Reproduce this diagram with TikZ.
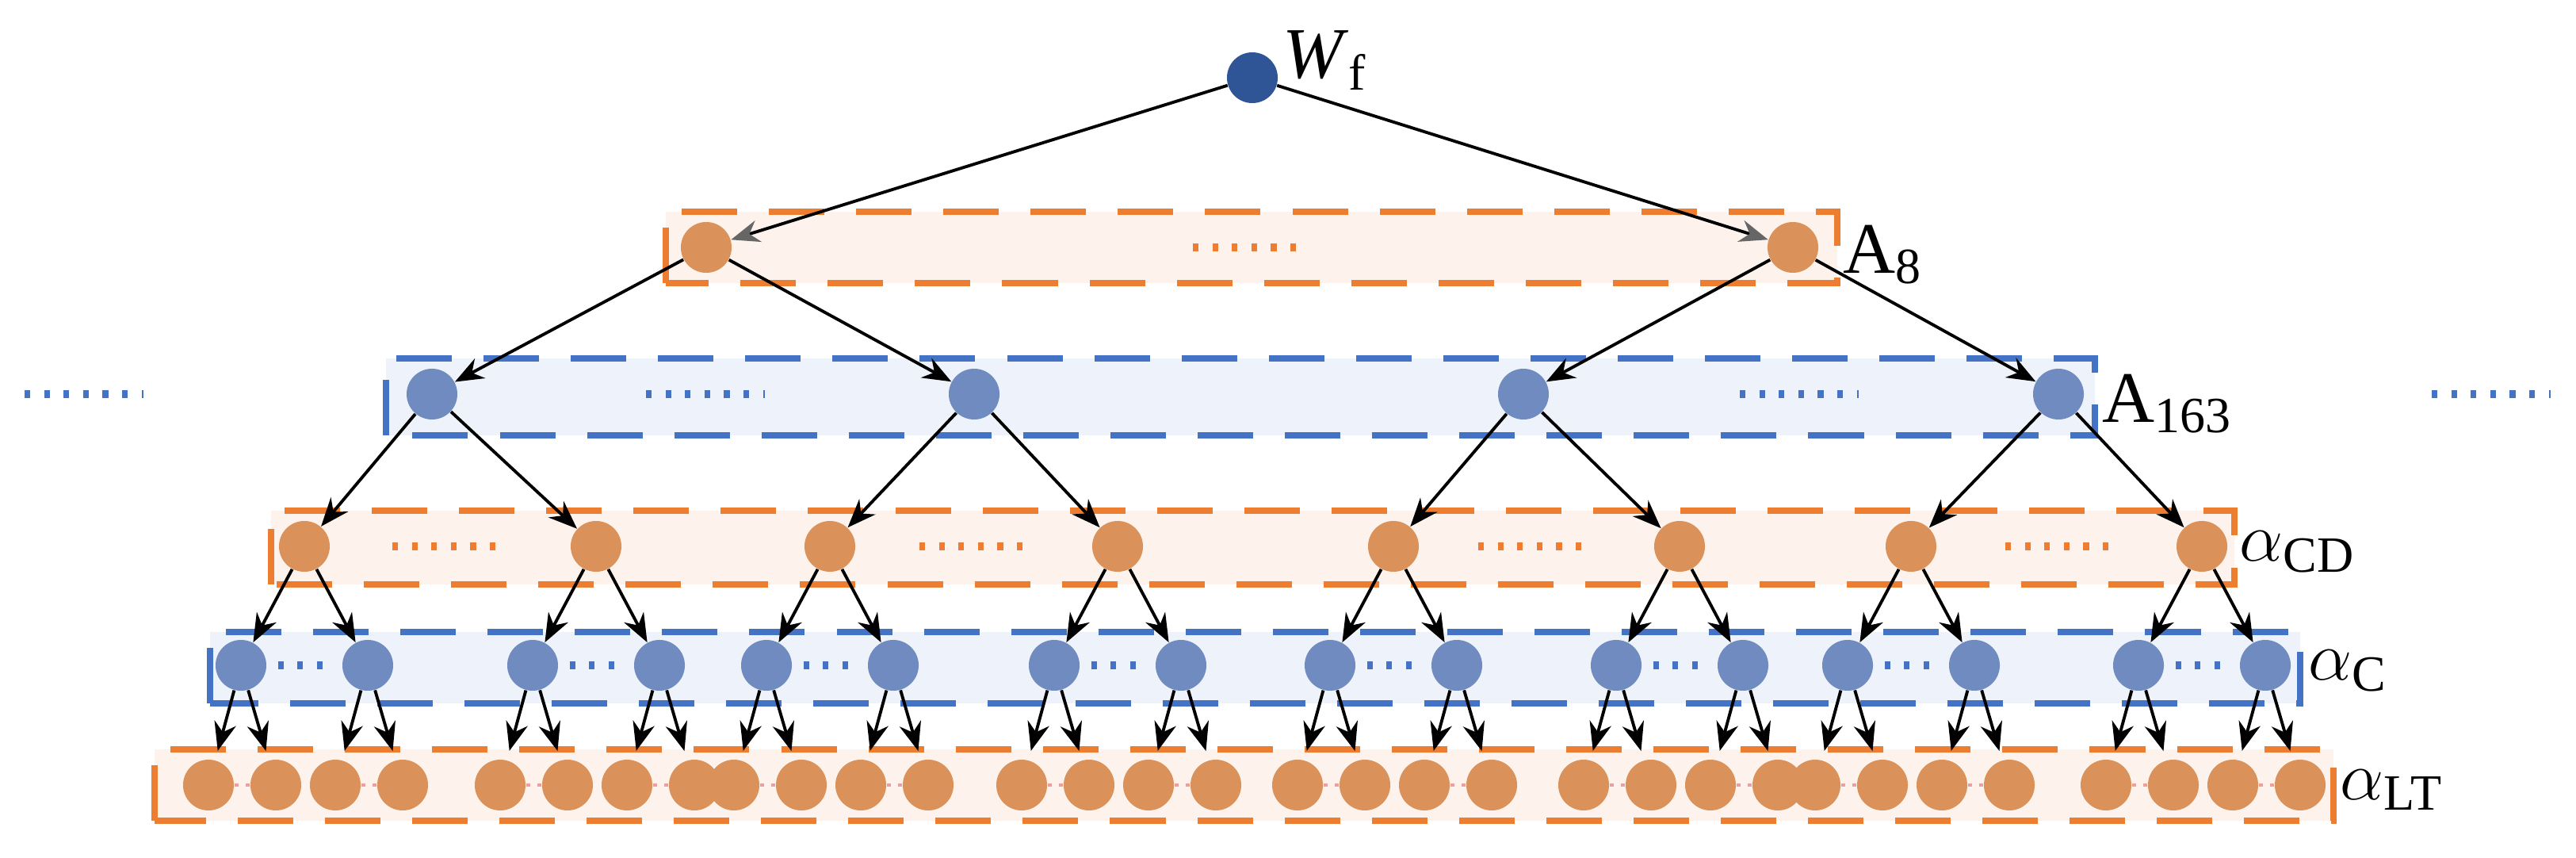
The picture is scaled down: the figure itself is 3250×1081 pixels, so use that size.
\documentclass[tikz,border=0pt]{standalone}
\usepackage{fontspec}
\setmainfont{Liberation Serif}
\usetikzlibrary{arrows.meta}
\definecolor{org}{HTML}{ED7D31}
\definecolor{blu}{HTML}{4472C4}
\definecolor{orgfill}{HTML}{FDF3EC}
\definecolor{blufill}{HTML}{EEF2FA}
\definecolor{onode}{HTML}{DA915A}
\definecolor{bnode}{HTML}{6F8BBF}
\definecolor{rnode}{HTML}{2F5597}
\definecolor{pinkdot}{HTML}{E9A0A0}
\begin{document}
\begin{tikzpicture}[x=0.01cm,y=0.01cm,
  on/.style={circle,fill=onode,minimum size=0.64cm,inner sep=0pt},
  bn/.style={circle,fill=bnode,minimum size=0.64cm,inner sep=0pt},
  obox/.style={draw=org,fill=orgfill,line width=2.4pt,dash pattern=on 0.7cm off 0.4cm},
  bbox/.style={draw=blu,fill=blufill,line width=2.4pt,dash pattern=on 0.7cm off 0.4cm},
  arr/.style={line width=1.1pt,-{Stealth[length=0.36cm,width=0.28cm]}},
  odots/.style={draw=org,line width=3pt,dash pattern=on 2pt off 5pt},
  bdots/.style={draw=blu,line width=3pt,dash pattern=on 2pt off 5pt},
  pdots/.style={draw=pinkdot,line width=1.2pt,dash pattern=on 1.5pt off 2.5pt},
  lab/.style={anchor=west,font=\fontsize{26}{30}\selectfont,inner sep=0pt}]
\useasboundingbox (0,0) rectangle (3250,1081);
% boxes
\draw[obox] (840,724) rectangle (2318,814);
\draw[bbox] (487,532) rectangle (2643,629);
\draw[obox] (342,344) rectangle (2819,437);
\draw[bbox] (265,194) rectangle (2902,284);
\draw[obox] (195,46) rectangle (2944,136);
% nodes
\node[circle,fill=rnode,minimum size=0.64cm,inner sep=0pt] (root) at (1580,983) {};
\node[on] (a1) at (891,769) {};
\node[on] (a2) at (2262,769) {};
\foreach \x [count=\i] in {545,1229,1922,2597} \node[bn] (b\i) at (\x,584) {};
\foreach \x [count=\i] in {384,752,1047,1410,1758,2119,2411,2778} {
  \pgfmathtruncatemacro\l{2*\i-1}\pgfmathtruncatemacro\r{2*\i}
  \node[on] (cd\i) at (\x,392) {};
  \node[bn] (c\l) at (\x-80,242) {};
  \node[bn] (c\r) at (\x+80,242) {};
}
\foreach \i in {1,...,16} {
  \pgfmathtruncatemacro\l{2*\i-1}\pgfmathtruncatemacro\r{2*\i}
  \path (c\i) ++(-41,-151) node[on] (lt\l) {};
  \path (c\i) ++(44,-151) node[on] (lt\r) {};
  \draw[pdots] (lt\l) -- (lt\r);
}
% dots
\draw[odots] (1505,769) -- (1650,769);
\draw[bdots] (815,584) -- (965,584);
\draw[bdots] (2195,584) -- (2345,584);
\draw[bdots] (31,584) -- (181,584);
\draw[bdots] (3068,584) -- (3218,584);
\foreach \i in {1,...,8} {
  \pgfmathtruncatemacro\l{2*\i-1}\pgfmathtruncatemacro\r{2*\i}
  \draw[bdots,shorten <=4pt,shorten >=4pt] (c\l) -- (c\r);
}
\draw[odots] (495,392) -- (640,392);
\draw[odots] (1160,392) -- (1305,392);
\draw[odots] (1865,392) -- (2010,392);
\draw[odots] (2530,392) -- (2675,392);
% edges
\draw[arr,-{Stealth[length=0.36cm,width=0.28cm,color=gray!80!black]}] (root) -- (a1);
\draw[arr,-{Stealth[length=0.36cm,width=0.28cm,color=gray!80!black]}] (root) -- (a2);
\draw[arr] (a1) -- (b1); \draw[arr] (a1) -- (b2);
\draw[arr] (a2) -- (b3); \draw[arr] (a2) -- (b4);
\foreach \i in {1,...,8} {
  \pgfmathtruncatemacro\p{int((\i+1)/2)}
  \draw[arr] (b\p) -- (cd\i);
}
\foreach \i in {1,...,16} {
  \pgfmathtruncatemacro\p{int((\i+1)/2)}
  \draw[arr] (cd\p) -- (c\i);
}
\foreach \i in {1,...,32} {
  \pgfmathtruncatemacro\p{int((\i+1)/2)}
  \draw[arr,shorten >=0.12cm] (c\p) -- (lt\i);
}
% labels
\node[lab] (lw) at (1618,1005) {\textit{W}\textsubscript{f}};
\node[lab] (la8) at (2325,760) {A\textsubscript{8}};
\node[lab] (la163) at (2652,572) {A\textsubscript{163}};
\node[lab] (lcd) at (2825,385) {$\alpha$\textsubscript{CD}};
\node[lab] (lc) at (2912,235) {$\alpha$\textsubscript{C}};
\node[lab] (llt) at (2952,85) {$\alpha$\textsubscript{LT}};
\end{tikzpicture}
\end{document}
